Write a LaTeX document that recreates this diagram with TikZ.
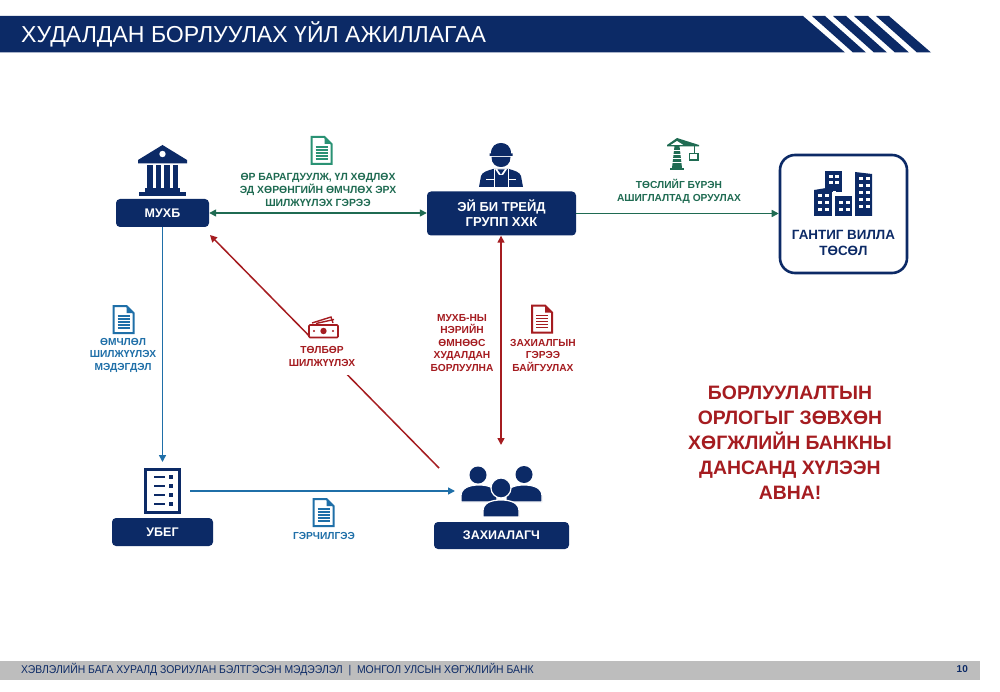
\documentclass[tikz,border=0pt]{standalone}
\usepackage{fontspec}
\setmainfont{Liberation Sans}
\newfontfamily\narrowfont[FakeStretch=0.92]{Liberation Sans}
\usetikzlibrary{arrows.meta}
\definecolor{navy}{HTML}{0C2A66}
\definecolor{bankred}{HTML}{A51C20}
\definecolor{bankgreen}{HTML}{1F6B52}
\definecolor{bankteal}{HTML}{2A9274}
\definecolor{bankblue}{HTML}{1F6FA8}
\definecolor{footgrey}{HTML}{BDBDBD}
\tikzset{
  navybox/.style={fill=navy,rounded corners=4pt,text=white,align=center,inner sep=0pt,font=\fontsize{12.5}{15}\selectfont\bfseries},
  lab/.style={align=center,inner sep=0pt,font=\fontsize{10.2}{12.5}\selectfont\bfseries},
  arrowline/.style={line width=1.5pt,-{Triangle[length=7pt,width=7pt]}},
  twoway/.style={line width=1.5pt,{Triangle[length=7pt,width=7pt]}-{Triangle[length=7pt,width=7pt]}}
}
% document icon: top-left x, y, colour (22 x 29 box)
\newcommand{\docicon}[3]{%
  \begin{scope}[shift={(#1,#2)},#3]
    \draw[line width=2pt,line join=miter,fill=white] (1,1) -- (14,1) -- (21,8) -- (21,28) -- (1,28) -- cycle;
    \fill (14,1) -- (21,8) -- (14,8) -- cycle;
    \foreach \yy in {11,14,17,20,23} {\draw[line width=1.1pt] (5,\yy) -- (17,\yy);}
  \end{scope}}
\newcommand{\persbody}[2]{%
  \fill[navy,draw=white,line width=1.2pt,shift={(#1,#2)}] (-18,17) -- (-18,11) .. controls (-18,3) and (-10,0) .. (0,0) .. controls (10,0) and (18,3) .. (18,11) -- (18,17) -- cycle;}
\begin{document}
\begin{tikzpicture}[x=1pt,y=-1pt]
\useasboundingbox (0,0) rectangle (1000,692);
\fill[white] (0,0) rectangle (1000,692);
% header
\fill[navy] (0,16) -- (803,16) -- (845,52.5) -- (0,52.5) -- cycle;
\fill[navy] (812,16) -- (825,16) -- (866,52.5) -- (853,52.5) -- cycle;
\fill[navy] (833,16) -- (846,16) -- (887,52.5) -- (874,52.5) -- cycle;
\fill[navy] (854,16) -- (868,16) -- (909,52.5) -- (895,52.5) -- cycle;
\fill[navy] (876,16) -- (889,16) -- (931,52.5) -- (917,52.5) -- cycle;
\node[anchor=west,inner sep=0pt,text=white,font=\fontsize{23.1}{26}\selectfont] (title) at (21,34) {ХУДАЛДАН БОРЛУУЛАХ ҮЙЛ АЖИЛЛАГАА};
% footer
\fill[footgrey] (0,661) rectangle (980,680);
\node[anchor=west,inner sep=0pt,text=navy,font=\fontsize{11.3}{12}\selectfont\narrowfont] (foot) at (21,669.5) {ХЭВЛЭЛИЙН БАГА ХУРАЛД ЗОРИУЛАН БЭЛТГЭСЭН МЭДЭЭЛЭЛ \ \textbar\ \ МОНГОЛ УЛСЫН ХӨГЖЛИЙН БАНК};
\node[anchor=east,inner sep=0pt,text=navy,font=\fontsize{10}{12}\selectfont\bfseries] (pageno) at (968,669.5) {10};
% boxes
\node[navybox,minimum width=93pt,minimum height=28pt] (muxb) at (162.5,213) {МУХБ};
\node[navybox,minimum width=149pt,minimum height=44pt,font=\fontsize{13}{15}\selectfont\bfseries] (aibi) at (501.5,213.5) {ЭЙ БИ ТРЕЙД\\ГРУПП ХХК};
\node[navybox,minimum width=101pt,minimum height=28pt] (ubeg) at (162.5,532) {УБЕГ};
\node[navybox,minimum width=135pt,minimum height=27pt] (zah) at (501.5,535.5) {ЗАХИАЛАГЧ};
\node[draw=navy,line width=2.6pt,rounded corners=15pt,minimum width=127pt,minimum height=118pt,inner sep=0pt] (gantig) at (843.5,214) {};
\node[lab,text=navy,font=\fontsize{13.4}{15.5}\selectfont\bfseries] (gantiglab) at (843.5,243) {ГАНТИГ ВИЛЛА\\ТӨСӨЛ};
% free connector ends
\coordinate (ubegtop) at (162.5,462);
\coordinate (ubegright) at (190,491);
\coordinate (zahleft) at (455,491);
\coordinate (zahtop) at (501,445);
\coordinate (diagfrom) at (439,468);
\coordinate (diagto) at (210,235);
% connectors
\draw[twoway,bankgreen] (muxb.east) -- (muxb.east -| aibi.west);
\draw[arrowline,bankgreen] (aibi.east) -- (aibi.east -| gantig.west);
\draw[arrowline,bankblue] (muxb.south) -- (ubegtop);
\draw[arrowline,bankblue] (ubegright) -- (zahleft);
\draw[twoway,bankred] (zahtop) -- (aibi.south -| zahtop);
\draw[arrowline,bankred] (diagfrom) -- (diagto);
% labels
\node[lab,text=bankgreen,font=\fontsize{10.4}{13}\selectfont\bfseries] (l1) at (318,190) {ӨР БАРАГДУУЛЖ, ҮЛ ХӨДЛӨХ\\ЭД ХӨРӨНГИЙН ӨМЧЛӨХ ЭРХ\\ШИЛЖҮҮЛЭХ ГЭРЭЭ};
\node[lab,text=bankgreen] (l2) at (679,191.5) {ТӨСЛИЙГ БҮРЭН\\АШИГЛАЛТАД ОРУУЛАХ};
\node[lab,text=bankred] (l3) at (462,343) {МУХБ-НЫ\\НЭРИЙН\\ӨМНӨӨС\\ХУДАЛДАН\\БОРЛУУЛНА};
\node[lab,text=bankred] (l4) at (543,355) {ЗАХИАЛГЫН\\ГЭРЭЭ\\БАЙГУУЛАХ};
\node[lab,text=bankred,fill=white,inner xsep=3pt,inner ysep=8.5pt] (l5) at (322,356.5) {ТӨЛБӨР\\ШИЛЖҮҮЛЭХ};
\node[lab,text=bankblue] (l6) at (123,355) {ӨМЧЛӨЛ\\ШИЛЖҮҮЛЭХ\\МЭДЭГДЭЛ};
\node[lab,text=bankblue] (l7) at (324,536) {ГЭРЧИЛГЭЭ};
\node[align=center,inner sep=0pt,text=bankred,font=\fontsize{19.4}{25}\selectfont\bfseries] (big) at (790,443) {БОРЛУУЛАЛТЫН\\ОРЛОГЫГ ЗӨВХӨН\\ХӨГЖЛИЙН БАНКНЫ\\ДАНСАНД ХҮЛЭЭН\\АВНА!};
% document icons
\docicon{310.5}{136}{bankteal}
\docicon{112.5}{305}{bankblue}
\docicon{531}{304.5}{bankred}
\docicon{312.5}{498}{bankblue}
% bank icon
\begin{scope}[navy]
  \fill (162.5,145) -- (187,160) -- (187,163.5) -- (138,163.5) -- (138,160) -- cycle;
  \fill[white] (162.5,154) circle (3.2);
  \foreach \xx in {147.2,155.7,164.2,172.7} {\fill (\xx,165) rectangle ++(5.5,24);}
  \fill (145,188.5) rectangle (180,192);
  \fill (139,192.5) rectangle (186,196);
\end{scope}
% worker icon
\begin{scope}[navy]
  \fill (491,153.5) .. controls (491,146) and (496,143) .. (501,143) .. controls (506,143) and (511,146) .. (511,153.5) -- (512.5,153.5) -- (512.5,156) -- (489.5,156) -- (489.5,153.5) -- cycle;
  \fill (491.5,157) -- (510.5,157) .. controls (510.5,164) and (506,167) .. (501,167) .. controls (496,167) and (491.5,164) .. (491.5,157) -- cycle;
  \fill (479,187) -- (481,176) .. controls (482,172) and (488,170.5) .. (493,169) -- (509,169) .. controls (514,170.5) and (520,172) .. (521,176) -- (523,187) -- cycle;
  \fill[white] (495,169) -- (507,169) -- (503,175) -- (499,175) -- cycle;
  \fill (497.5,169.5) -- (504.5,169.5) -- (501,174.5) -- cycle;
  \draw[white,line width=1pt] (494,169) -- (494,187) (508,169) -- (508,187) (486,180) -- (494,180) (508,180) -- (516,180);
\end{scope}
% crane icon
\begin{scope}[bankgreen]
  \fill (677,138) -- (699,145) -- (699,146.5) -- (667,146.5) -- (667,145) -- cycle;
  \fill[white] (677,141) -- (683,144.8) -- (671,144.8) -- cycle;
  \fill (674.5,146) -- (679.5,146) -- (682,168) -- (672,168) -- cycle;
  \foreach \yy in {150,154,158,162} {\draw[white,line width=.7pt] (672,\yy) -- (682,\yy);}
  \fill (670,168) rectangle (684,170);
  \draw[line width=1pt] (694,146) -- (694,153);
  \draw[line width=1.4pt,fill=white] (689.5,153.5) rectangle (698,160);
\end{scope}
% buildings icon
\begin{scope}[navy]
  \fill (825,171) rectangle (842,192);
  \fill[white] (832.5,191) rectangle (836,196);
  \fill (814,190) -- (832,187) -- (832,216) -- (814,216) -- cycle;
  \fill[white] (832,192) rectangle (835,216);
  \fill (835,196) rectangle (852,216);
  \fill (855,172) -- (872,174) -- (872,216) -- (855,216) -- cycle;
  \foreach \xx in {829,835} \foreach \yy in {175,181} {\fill[white] (\xx,\yy) rectangle ++(3.5,3.5);}
  \foreach \xx in {818,825} \foreach \yy in {194,201,208} {\fill[white] (\xx,\yy) rectangle ++(3.5,3.5);}
  \foreach \xx in {839,846} \foreach \yy in {201,208} {\fill[white] (\xx,\yy) rectangle ++(3.5,3.5);}
  \foreach \xx in {859,866} \foreach \yy in {177,184,191,198,205} {\fill[white] (\xx,\yy) rectangle ++(3.5,3.5);}
\end{scope}
% money icon
\begin{scope}[bankred]
  \draw[line width=1.7pt,fill=white,rounded corners=1pt] (309,325) rectangle (338,337.5);
  \fill (323.5,331) circle (3.2);
  \fill (314,331) circle (1.2);
  \fill (333,331) circle (1.2);
  \draw[line width=1.4pt] (312,323) -- (331,317) -- (333,323);
  \draw[line width=1.4pt] (316,323.5) -- (334,319.5);
\end{scope}
% list icon
\begin{scope}[navy]
  \draw[line width=2.6pt] (145.5,469.5) rectangle (179.5,512.5);
  \foreach \yy in {477,486,495,504} {
    \draw[line width=1.6pt] (154,\yy) -- (165,\yy);
    \fill (168.5,\yy-2.2) rectangle ++(4.5,4.5);
  }
\end{scope}
% people icon
\fill[navy] (478,475) circle (8.5);
\fill[navy] (524,474.5) circle (8.5);
\persbody{479}{485}
\persbody{524}{485}
\fill[navy] (501,488) circle (10);
\draw[white,line width=1.2pt] (501,488) circle (10);
\persbody{501}{500}
\fill[white] (480,517) rectangle (522,519);
\end{tikzpicture}
\end{document}
